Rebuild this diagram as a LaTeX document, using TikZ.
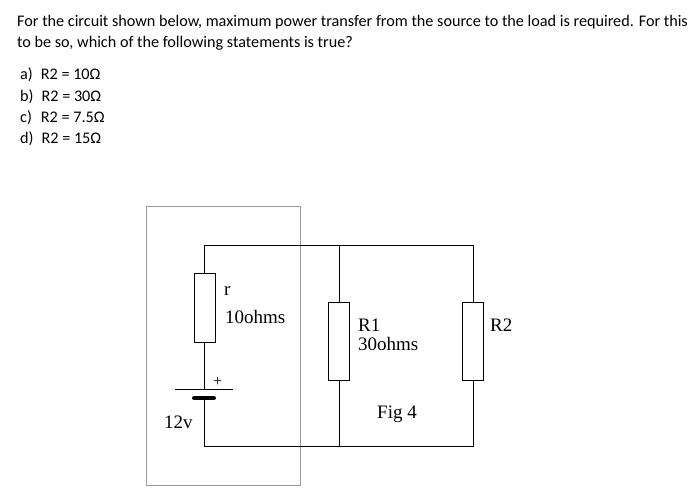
\documentclass[tikz,border=0pt]{standalone}
\usepackage{fontspec}
\setmainfont{Carlito}
\newfontfamily\tms{Liberation Serif}
\begin{document}
\begin{tikzpicture}[x=1pt,y=-1pt,
  q/.style={anchor=base west,inner sep=0,font=\fontsize{16.2}{18}\selectfont},
  c/.style={anchor=base west,inner sep=0,font=\tms\fontsize{19}{21}\selectfont},
  res/.style={draw,fill=white,line width=0.8pt,minimum width=21pt,minimum height=69pt,inner sep=0},
  w/.style={line width=0.8pt}]
\useasboundingbox (0,0) rectangle (688,495);
\clip (0,0) rectangle (688,495);
\fill[white] (0,0) rectangle (688,495);
\node[q] (l1) at (17,27) {For the circuit shown below, maximum power transfer from the source to the  load is required.  For this};
\node[q] (l2) at (17,48) {to be so, which of the following statements is true?};
\node[q] (a) at (20,80) {a)\hspace{8pt}R2 = 10Ω};
\node[q] (b) at (20,101) {b)\hspace{8pt}R2 = 30Ω};
\node[q] (cc) at (20,122) {c)\hspace{9pt}R2 = 7.5Ω};
\node[q] (d) at (20,143) {d)\hspace{8pt}R2 = 15Ω};
\draw[gray!80,line width=0.7pt] (146,206) rectangle (300,485);
\coordinate (tl) at (204,245); \coordinate (tm) at (339,245); \coordinate (tr) at (473,245);
\coordinate (bl) at (204,446); \coordinate (bm) at (339,446); \coordinate (br) at (473,446);
\coordinate (bp) at (204,389); \coordinate (bn) at (204,398);
\draw[w] (bn) -- (bl) -- (br) -- (tr) -- (tl) -- (bp);
\draw[w] (tm) -- (bm);
\node[res] (r) at (204.5,307.5) {};
\node[res,minimum height=78pt] (r1) at (338.5,341) {};
\node[res,minimum height=78pt] (r2) at (472.5,341) {};
\draw[w] (175,389) -- (233,389);
\draw[line width=4pt,line cap=round] (194,398) -- (214,398);
\node[c,font=\tms\fontsize{16}{16}\selectfont] (plus) at (213,386) {+};
\node[c] (v) at (164,428) {12v};
\node[c] (rl) at (224,295) {r};
\node[c] (rv) at (225,323) {10ohms};
\node[c] (r1l) at (358,331) {R1};
\node[c] (r1v) at (358,350) {30ohms};
\node[c] (r2l) at (490,331) {R2};
\node[c] (fig) at (377,418) {Fig 4};
\end{tikzpicture}
\end{document}
